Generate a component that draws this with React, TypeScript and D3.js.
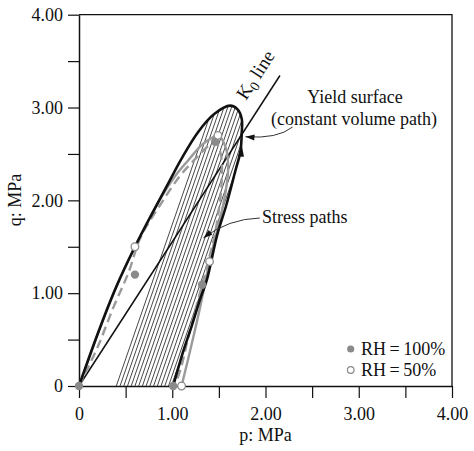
import React, { useRef, useEffect } from 'react';
import * as d3 from 'd3';

const W = 474;
const H = 451;

// yield surface (constant volume path), black thick line
const yieldP = [0, 0.20, 0.40, 0.60, 0.78, 0.94, 1.10, 1.28, 1.45, 1.62, 1.70, 1.745, 1.745, 1.73, 1.68, 1.58, 1.48, 1.37, 1.30, 1.20, 1.12, 1.01];
const yieldQ = [0, 0.56, 1.07, 1.50, 1.85, 2.15, 2.45, 2.74, 2.93, 3.02, 2.98, 2.88, 2.72, 2.52, 2.33, 1.95, 1.62, 1.14, 0.94, 0.62, 0.38, 0];

// RH = 50% stress path (gray solid)
const rh50P = [0, 0.15, 0.32, 0.60, 0.85, 1.03, 1.17, 1.32, 1.42, 1.49, 1.57, 1.60, 1.57, 1.51, 1.45, 1.40, 1.31, 1.22, 1.10];
const rh50Q = [0, 0.42, 0.88, 1.50, 1.98, 2.26, 2.43, 2.60, 2.67, 2.70, 2.58, 2.36, 2.08, 1.79, 1.55, 1.34, 0.90, 0.50, 0];

// RH = 100% stress path (gray dashed)
const rh100P = [0, 0.20, 0.37, 0.53, 0.66, 0.87, 1.08, 1.25, 1.38, 1.46, 1.52, 1.53, 1.50, 1.45, 1.40, 1.32, 1.19, 1.07, 1.01];
const rh100Q = [0, 0.42, 0.85, 1.22, 1.60, 1.95, 2.26, 2.45, 2.58, 2.63, 2.50, 2.20, 1.90, 1.60, 1.40, 1.09, 0.60, 0.12, 0];

// measured points
const rh100PtP = [0, 0.60, 1.46, 1.32, 1.01];
const rh100PtQ = [0, 1.20, 2.63, 1.09, 0];
const rh50PtP = [0.60, 1.49, 1.40, 1.10];
const rh50PtQ = [1.50, 2.70, 1.34, 0];

// hatched stress paths: start p on q = 0, common slope dq/dp
const hatchStartP = [0.40, 0.44, 0.48, 0.52, 0.56, 0.60, 0.64, 0.68, 0.72, 0.76, 0.80, 0.84, 0.88, 0.92, 0.96, 0.99];
const hatchSlope = 2.9;

// K0 line end
const k0End = [2.155, 3.345];

const majorTicks = [0, 1, 2, 3, 4];
const tickLabels = ['0', '1.00', '2.00', '3.00', '4.00'];
const minorTicks = [0.5, 1.5, 2.5, 3.5];

const FONT = "'Liberation Serif', 'Times New Roman', serif";
const GRAY = '#9a9a9a';

function App() {
    const svgRef = useRef<SVGSVGElement | null>(null);

    useEffect(() => {
        if (!svgRef.current) return;
        const svg = d3.select(svgRef.current);
        svg.selectAll('*').remove();

        const x = d3.scaleLinear().domain([0, 4]).range([79, 452]);
        const y = d3.scaleLinear().domain([0, 4]).range([386, 14.7]);

        const zip = (ps: number[], qs: number[]) => ps.map((p, i) => [p, qs[i]] as [number, number]);
        const line = d3.line<[number, number]>()
            .x(d => x(d[0]))
            .y(d => y(d[1]))
            .curve(d3.curveCatmullRom.alpha(0.5));

        const yieldPts = zip(yieldP, yieldQ);

        // clip for hatching
        svg.append('defs').append('clipPath').attr('id', 'ys-clip')
            .append('path').attr('d', line(yieldPts) + 'Z');

        const allTicks = [...majorTicks, ...minorTicks].sort((a, b) => a - b);
        const fmt = (d: d3.NumberValue) => {
            const i = majorTicks.indexOf(+d);
            return i >= 0 ? tickLabels[i] : '';
        };

        // axes
        const gx = svg.append('g').attr('transform', `translate(0,${y(0)})`)
            .call(d3.axisBottom(x).tickValues(allTicks).tickSize(12).tickSizeOuter(0).tickPadding(9).tickFormat(fmt));
        const gy = svg.append('g').attr('transform', `translate(${x(0)},0)`)
            .call(d3.axisLeft(y).tickValues(allTicks).tickSize(11).tickSizeOuter(0).tickPadding(5).tickFormat(fmt));
        [gx, gy].forEach(g => {
            g.attr('font-family', FONT).attr('font-size', 18);
            g.selectAll('path.domain').attr('stroke', '#111').attr('stroke-width', 1.5);
            g.selectAll('line').attr('stroke', '#111').attr('stroke-width', 1.2);
            g.selectAll('text').attr('fill', '#111');
        });
        gy.selectAll('text').attr('dy', '0.32em');

        // frame top & right
        svg.append('path')
            .attr('d', `M${x(0)},${y(4)}H${x(4)}V${y(0)}`)
            .attr('fill', 'none').attr('stroke', '#111').attr('stroke-width', 1.3);

        // hatched stress paths
        svg.append('g').attr('clip-path', 'url(#ys-clip)')
            .selectAll('line').data(hatchStartP).enter().append('line')
            .attr('x1', d => x(d)).attr('y1', y(0))
            .attr('x2', d => x(d + 4 / hatchSlope)).attr('y2', y(4))
            .attr('stroke', '#333').attr('stroke-width', 0.9);

        // K0 line
        svg.append('line')
            .attr('x1', x(0)).attr('y1', y(0))
            .attr('x2', x(k0End[0])).attr('y2', y(k0End[1]))
            .attr('stroke', '#111').attr('stroke-width', 1.5);

        // gray stress paths
        svg.append('path').attr('d', line(zip(rh50P, rh50Q)))
            .attr('fill', 'none').attr('stroke', GRAY).attr('stroke-width', 2.4);
        svg.append('path').attr('d', line(zip(rh100P, rh100Q)))
            .attr('fill', 'none').attr('stroke', GRAY).attr('stroke-width', 2.4)
            .attr('stroke-dasharray', '9,5');

        // yield surface
        svg.append('path').attr('d', line(yieldPts))
            .attr('fill', 'none').attr('stroke', '#111').attr('stroke-width', 2.6)
            .attr('stroke-linejoin', 'round');

        // direction arrow on the right branch
        const tip: [number, number] = [x(1.745), y(2.60)];
        const base: [number, number] = [x(1.737), y(2.47)];
        svg.append('path').attr('d', arrowHead(base, tip, 12, 3)).attr('fill', '#111');

        // markers
        svg.append('g').selectAll('circle').data(zip(rh100PtP, rh100PtQ)).enter().append('circle')
            .attr('cx', d => x(d[0])).attr('cy', d => y(d[1])).attr('r', 4.2)
            .attr('fill', '#8a8a8a');
        svg.append('g').selectAll('circle').data(zip(rh50PtP, rh50PtQ)).enter().append('circle')
            .attr('cx', d => x(d[0])).attr('cy', d => y(d[1])).attr('r', 3.8)
            .attr('fill', '#fff').attr('stroke', '#8a8a8a').attr('stroke-width', 1.3);

        // annotations
        const annotate = (from: [number, number], ctrl: [number, number], to: [number, number]) => {
            const p0: [number, number] = [x(from[0]), y(from[1])];
            const c: [number, number] = [x(ctrl[0]), y(ctrl[1])];
            const t: [number, number] = [x(to[0]), y(to[1])];
            const path = d3.path();
            path.moveTo(p0[0], p0[1]);
            path.quadraticCurveTo(c[0], c[1], t[0], t[1]);
            svg.append('path').attr('d', path.toString())
                .attr('fill', 'none').attr('stroke', '#333').attr('stroke-width', 1);
            svg.append('path').attr('d', arrowHead(c, t, 9, 3)).attr('fill', '#111');
        };
        annotate([2.29, 2.79], [2.13, 2.66], [1.785, 2.685]);
        annotate([1.94, 1.81], [1.60, 1.80], [1.335, 1.595]);

        const text = (tx: number, ty: number, s: string, anchor = 'start') =>
            svg.append('text').attr('x', tx).attr('y', ty).attr('text-anchor', anchor)
                .attr('font-family', FONT).attr('font-size', 18).attr('fill', '#111').text(s);

        text(355, 103, 'Yield surface', 'middle');
        text(354, 125, '(constant volume path)', 'middle');
        text(262, 223, 'Stress paths');

        // K0 label along the line
        const k0 = svg.append('text')
            .attr('transform', 'translate(246,101) rotate(-57)')
            .attr('font-family', FONT).attr('font-size', 19).attr('fill', '#111');
        k0.append('tspan').text('K');
        k0.append('tspan').attr('font-size', 14).attr('dy', 4).text('0');
        k0.append('tspan').attr('dy', -4).text(' line');

        // axis titles
        text(265.5, 441, 'p: MPa', 'middle');
        svg.append('text').attr('transform', 'translate(21,200) rotate(-90)')
            .attr('text-anchor', 'middle').attr('font-family', FONT).attr('font-size', 18)
            .attr('fill', '#111').text('q: MPa');

        // legend
        svg.append('circle').attr('cx', 350.7).attr('cy', 349).attr('r', 3.6).attr('fill', '#8a8a8a');
        text(361, 354.5, 'RH\u2009=\u2009100%');
        svg.append('circle').attr('cx', 350.7).attr('cy', 370).attr('r', 3.3)
            .attr('fill', '#fff').attr('stroke', '#8a8a8a').attr('stroke-width', 1.2);
        text(361, 375.5, 'RH\u2009=\u200950%');
    }, []);

    return (
        <div style={{ position: 'absolute', left: 0, top: 0, background: '#fff' }}>
            <svg ref={svgRef} width={W} height={H}></svg>
        </div>
    );
}

function arrowHead(from: [number, number], tip: [number, number], len: number, half: number) {
    const dx = tip[0] - from[0];
    const dy = tip[1] - from[1];
    const n = Math.hypot(dx, dy) || 1;
    const ux = dx / n, uy = dy / n;
    const bx = tip[0] - ux * len, by = tip[1] - uy * len;
    return `M${tip[0]},${tip[1]}L${bx - uy * half},${by + ux * half}L${bx + uy * half},${by - ux * half}Z`;
}

export default App;
